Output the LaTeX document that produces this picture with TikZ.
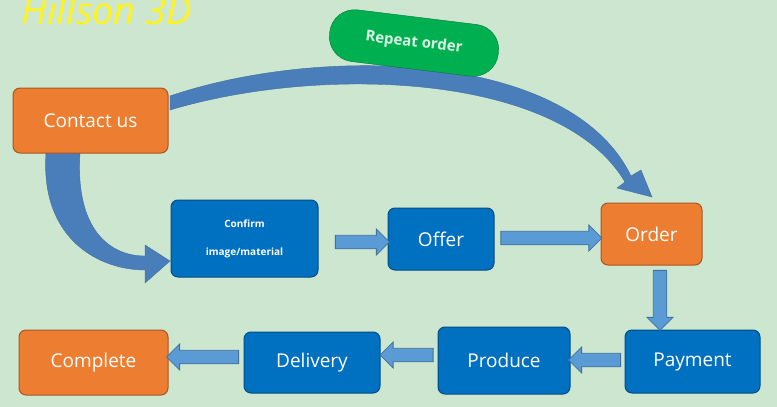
\documentclass[tikz,border=0pt]{standalone}
\usepackage{fontspec}
\setmainfont{Open Sans}
\usetikzlibrary{shapes.arrows}
\definecolor{bg}{HTML}{CDE6D0}
\definecolor{org}{HTML}{ED7D31}
\definecolor{blu}{HTML}{0070C0}
\definecolor{grn}{HTML}{00B050}
\definecolor{arr}{HTML}{5B9BD5}
\definecolor{arrd}{HTML}{41719C}
\definecolor{carr}{HTML}{4A7EBB}
\begin{document}
\begin{tikzpicture}[x=1pt,y=-1pt,
  box/.style={draw=#1!70!black,fill=#1,rounded corners=7pt,text=white,font=\fontsize{19}{22}\selectfont,align=center,line width=1pt},
  barr/.style={single arrow,draw=arrd,fill=arr,single arrow head extend=5pt,inner sep=5pt,minimum width=26pt,line width=0.8pt}]
\clip (0,0) rectangle (777,407);
\fill[bg] (0,0) rectangle (777,407);
\node[anchor=base west,text=yellow!90!white,font=\fontsize{38}{40}\selectfont\itshape] (title) at (18,24) {Hillson 3D};
% curved arrows
\fill[carr,draw=arrd] (170,96) .. controls (320,45) and (570,50) .. (631,176) -- (641,170) -- (652,197) -- (617,188) -- (625,182) .. controls (560,72) and (320,65) .. (170,110) -- cycle;
\fill[carr,draw=arrd] (46,153) .. controls (40,240) and (100,270) .. (145,270) -- (145,283) -- (170,261) -- (145,245) -- (145,256) .. controls (110,256) and (75,230) .. (80,153) -- cycle;
\node[box=org,minimum width=155pt,minimum height=65pt] (contact) at (90.5,120.5) {Contact us};
\node[draw=grn!70!black,fill=grn,rounded corners=25pt,rotate=-7,minimum width=170pt,minimum height=52pt,text=white!85!grn,font=\bfseries\fontsize{15}{18}\selectfont] (repeat) at (414,43) {Repeat order};
\node[box=blu,minimum width=147pt,minimum height=77pt,font=\bfseries\fontsize{10}{28}\selectfont] (confirm) at (244.5,238.5) {Confirm\\image/material};
\node[box=blu,minimum width=106pt,minimum height=62pt] (offer) at (441,239) {Offer};
\node[box=org,minimum width=101pt,minimum height=62pt] (order) at (651.5,234) {Order};
\node[box=blu,minimum width=135pt,minimum height=63pt] (payment) at (692.5,361.5) {Payment};
\node[box=blu,minimum width=132pt,minimum height=67pt] (produce) at (504,360.5) {Produce};
\node[box=blu,minimum width=136pt,minimum height=61pt] (delivery) at (312,362.5) {Delivery};
\node[box=org,minimum width=149pt,minimum height=65pt] (complete) at (93.5,362.5) {Complete};
\node[barr,minimum height=54pt] (a1) at (359,242) {};
\node[barr,minimum height=101pt] (a2) at (548,238) {};
\node[barr,minimum height=60pt,rotate=-90] (a3) at (660,297) {};
\node[barr,minimum height=52pt,rotate=180] (a4) at (598,360) {};
\node[barr,minimum height=53pt,rotate=180] (a5) at (410,355) {};
\node[barr,minimum height=72pt,rotate=180] (a6) at (206,357) {};
\end{tikzpicture}
\end{document}
